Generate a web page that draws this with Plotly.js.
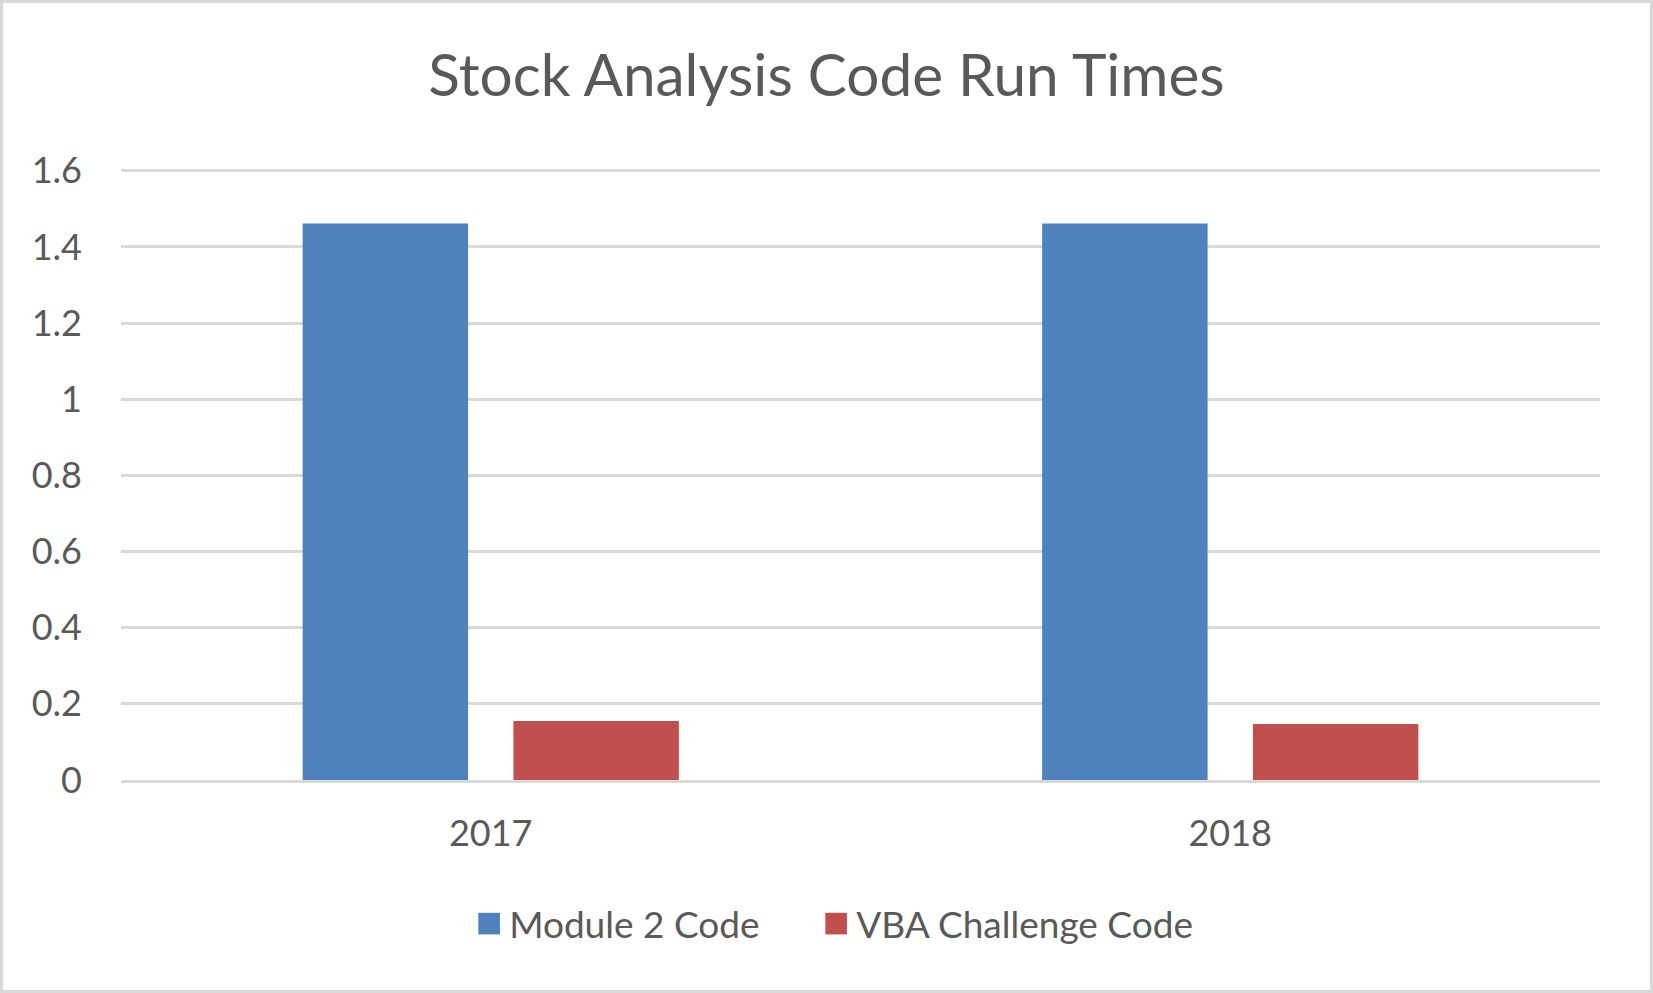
<!DOCTYPE html>
<html>
<head>
<meta charset="utf-8">
<script src="https://cdn.plot.ly/plotly-3.0.1.min.js"></script>
<style>
  body { margin: 0; background: #fff; }
  #wrap { position: relative; width: 1653px; height: 993px; }
  #frame { position: absolute; left: 0; top: 0; width: 1653px; height: 993px; box-sizing: border-box;
           border: 3px solid #d9d9d9; pointer-events: none; z-index: 10; }
</style>
</head>
<body>
<div id="wrap">
  <div id="chart"></div>
  <div id="frame"></div>
</div>
<script>
const years = ['2017', '2018'];
const module2Times = [1.4616, 1.4616];
const challengeTimes = [0.155, 0.147];
const yTicks = [0, 0.2, 0.4, 0.6, 0.8, 1, 1.2, 1.4, 1.6];

const FONT = 'Lato, "Open Sans", sans-serif';
const TEXT = '#595959';

const data = [
    {
        type: 'bar',
        name: 'Module 2 Code',
        x: years,
        y: module2Times,
        marker: {color: '#4f81bd'}
    },
    {
        type: 'bar',
        name: 'VBA Challenge Code',
        x: years,
        y: challengeTimes,
        marker: {color: '#c0504d'}
    }
];

const layout = {
    width: 1653,
    height: 993,
    paper_bgcolor: '#fff',
    plot_bgcolor: '#fff',
    font: {family: FONT, color: TEXT},
    // top range is a bit over 1.6 so plotly keeps the 1.6 gridline
    margin: {l: 121, r: 53, t: 167, b: 213},
    title: {
        text: 'Stock Analysis Code Run Times',
        font: {size: 58.5, color: TEXT, family: FONT},
        x: 0.5,
        xanchor: 'center',
        y: 0.924,
        yanchor: 'middle'
    },
    barmode: 'group',
    bargap: 0.43,
    bargroupgap: 0.215,
    xaxis: {
        type: 'category',
        tickfont: {size: 36, color: TEXT},
        ticklabelstandoff: 20,
        showgrid: false,
        showline: true,
        linecolor: '#d9d9d9',
        linewidth: 3,
        ticks: ''
    },
    yaxis: {
        range: [0, 1.61],
        tickvals: yTicks,
        ticktext: yTicks.map(String),
        tickfont: {size: 36, color: TEXT},
        ticklabelstandoff: 38,
        gridcolor: '#d9d9d9',
        gridwidth: 3,
        zeroline: false,
        showline: false,
        ticks: ''
    },
    legend: {
        orientation: 'h',
        x: 0.47,
        xanchor: 'center',
        y: -0.235,
        yanchor: 'middle',
        font: {size: 37, color: TEXT},
        itemwidth: 30,
        entrywidth: 302,
        traceorder: 'normal'
    },
    showlegend: true
};

Plotly.newPlot('chart', data, layout, {displayModeBar: false, staticPlot: true}).then(gd => {
    // Excel-style legend keys are bigger squares than plotly's default bar swatch
    gd.querySelectorAll('.legend .legendpoints path').forEach(p => {
        let t = p.getAttribute('transform') || '';
        p.setAttribute('transform', t + ' scale(1.8)');
    });
    // entrywidth clips the last label, let it overflow
    gd.querySelectorAll('.legend .scrollbox').forEach(s => s.removeAttribute('clip-path'));
});
</script>
</body>
</html>
